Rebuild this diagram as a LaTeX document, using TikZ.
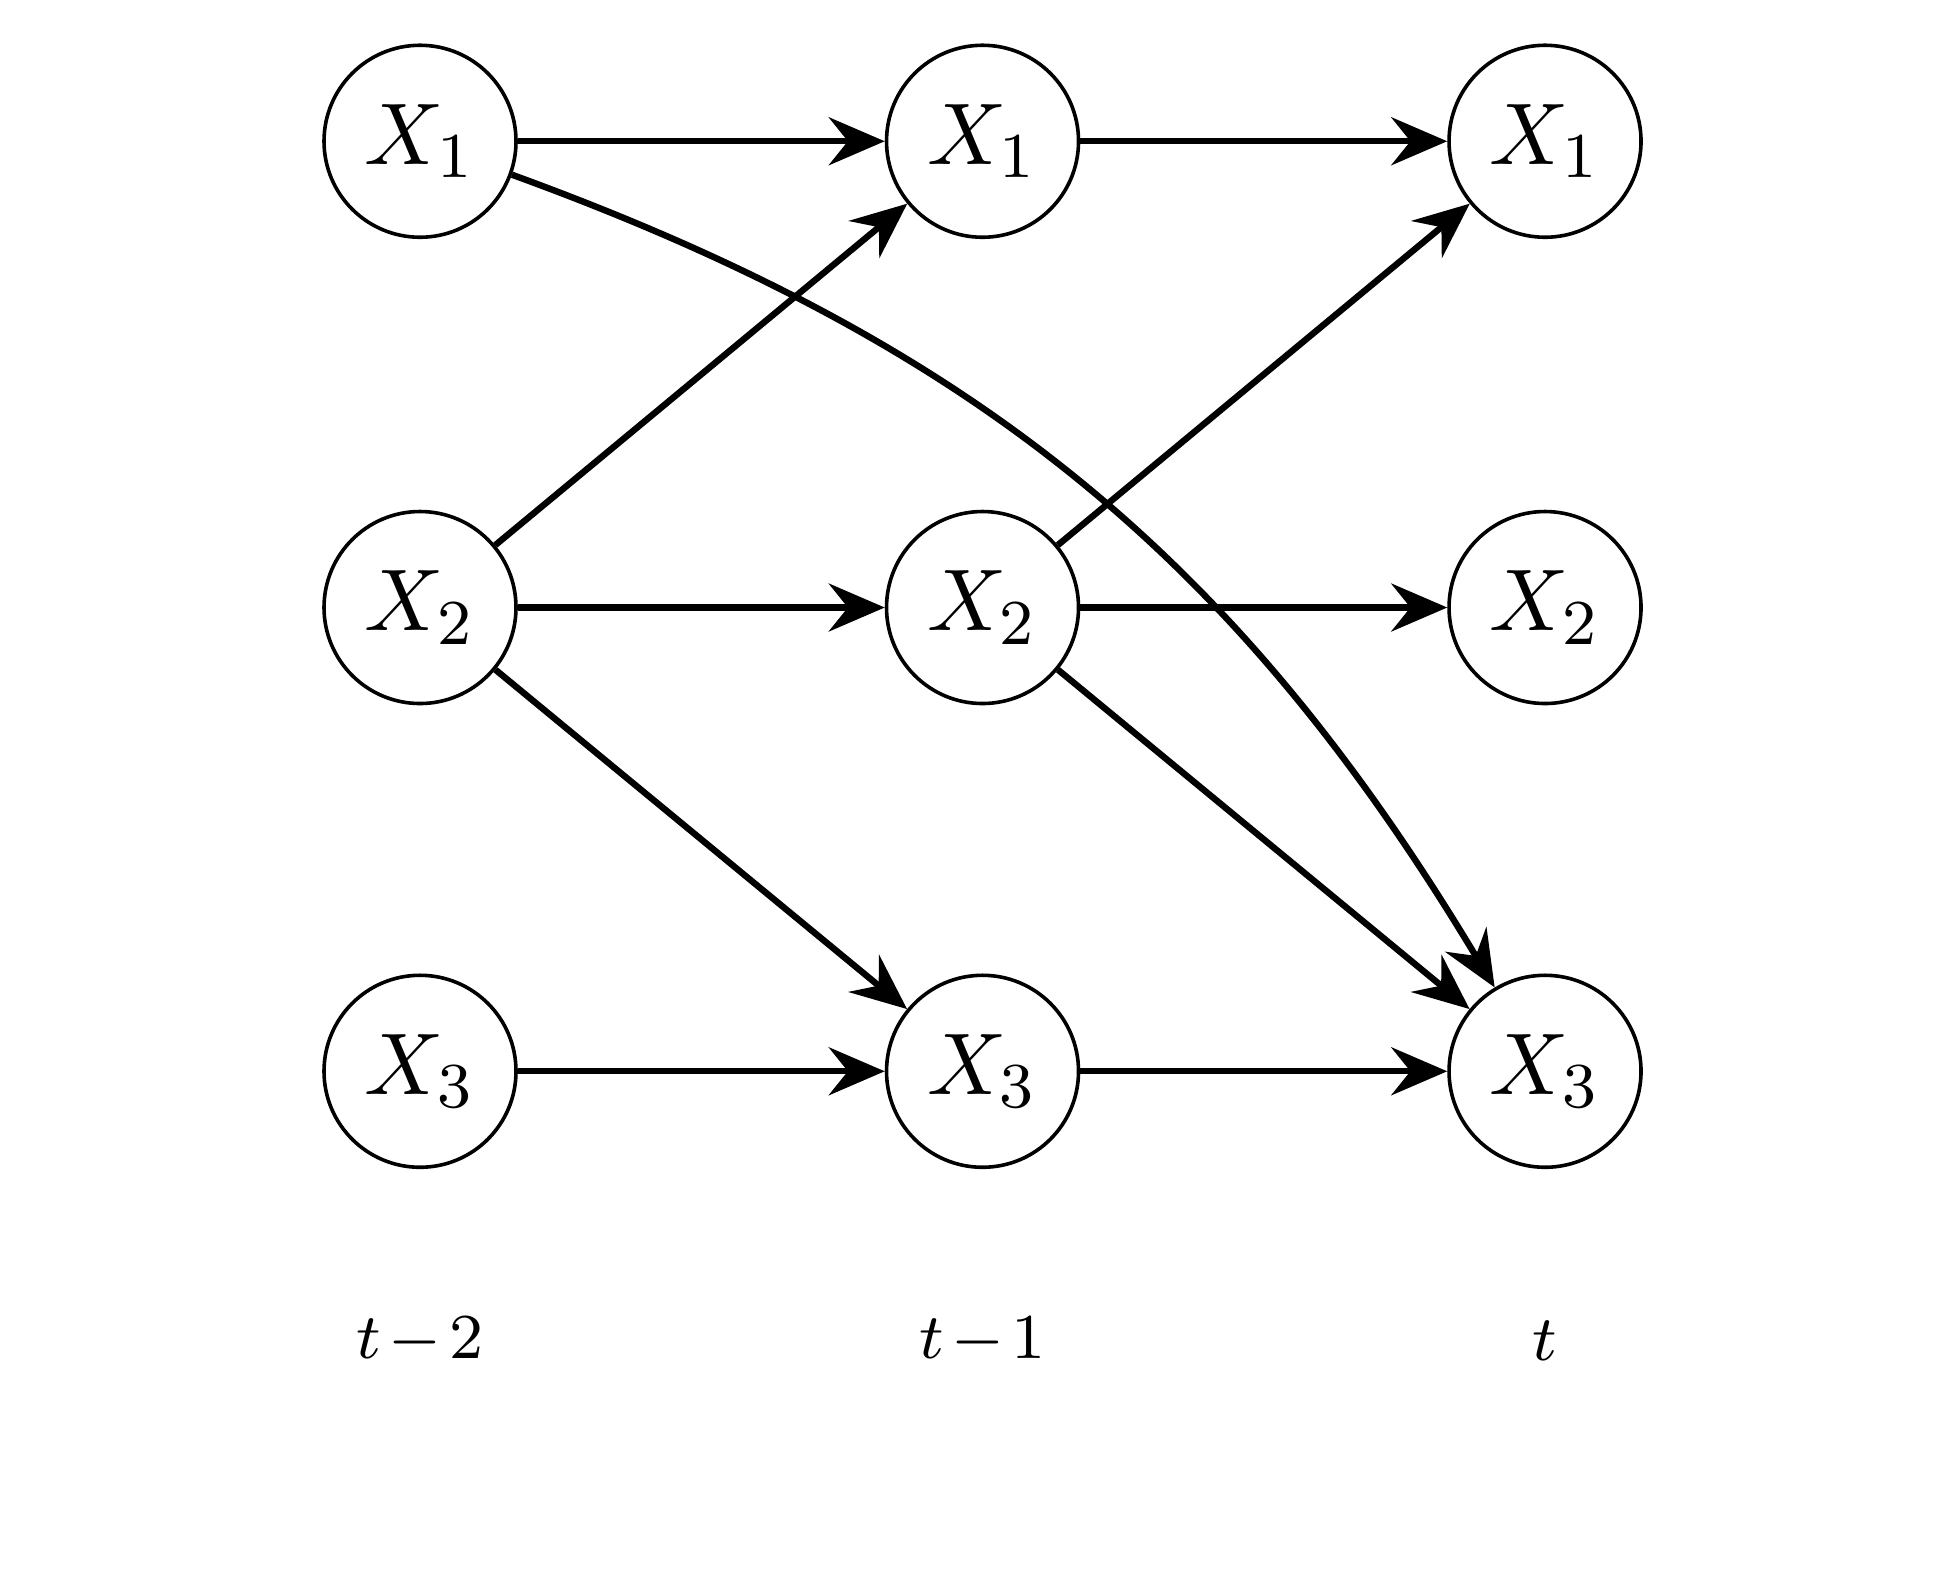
\documentclass[tikz,border=0pt]{standalone}
\usetikzlibrary{arrows.meta}
\begin{document}
\begin{tikzpicture}[x=0.15625pt,y=-0.15625pt,
  var/.style={circle,draw,line width=0.45pt,minimum size=24pt,inner sep=0pt,font=\fontsize{10.8}{13}\selectfont},
  conn/.style={line width=0.8pt,-{Stealth[length=7pt,width=6pt,inset=2.4pt]}},
  tlabel/.style={inner sep=0pt,font=\fontsize{8.2}{10}\selectfont}]
\useasboundingbox (0,0) rectangle (1568,1267);
\node[var] (a1) at (336,113) {$X_1$};
\node[var] (a2) at (336,486) {$X_2$};
\node[var] (a3) at (336,857) {$X_3$};
\node[var] (b1) at (786,113) {$X_1$};
\node[var] (b2) at (786,486) {$X_2$};
\node[var] (b3) at (786,857) {$X_3$};
\node[var] (c1) at (1236,113) {$X_1$};
\node[var] (c2) at (1236,486) {$X_2$};
\node[var] (c3) at (1236,857) {$X_3$};
\node[tlabel] (la) at (336,1073) {$t\mkern2mu{-}\mkern2mu2$};
\node[tlabel] (lb) at (786,1073) {$t\mkern2mu{-}\mkern2mu1$};
\node[tlabel] (lc) at (1236,1073) {$t$};
\draw[conn] (a1) -- (b1);
\draw[conn] (b1) -- (c1);
\draw[conn] (a2) -- (b2);
\draw[conn] (b2) -- (c2);
\draw[conn] (a3) -- (b3);
\draw[conn] (b3) -- (c3);
\draw[conn] (a2) -- (b1);
\draw[conn] (a2) -- (b3);
\draw[conn] (b2) -- (c1);
\draw[conn] (b2) -- (c3);
\draw[conn] (a1) to[out=-20,in=121] (c3);
\end{tikzpicture}
\end{document}
